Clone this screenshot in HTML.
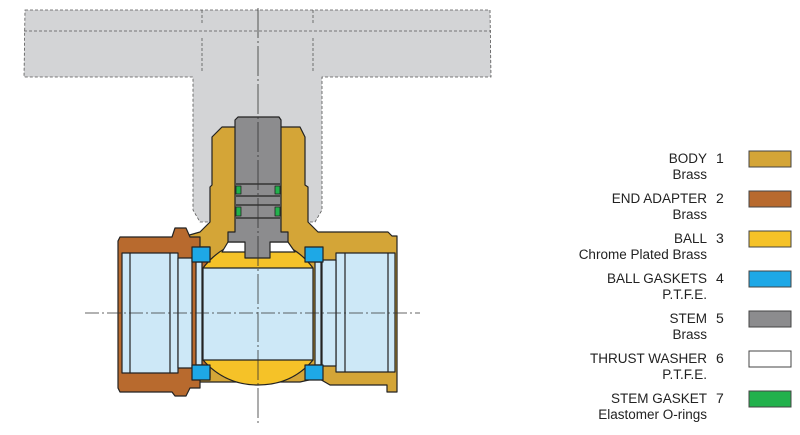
<!DOCTYPE html>
<html><head><meta charset="utf-8"><style>
html,body{margin:0;padding:0;background:#fff;width:800px;height:435px;overflow:hidden}
svg{display:block}
text{font-family:"Liberation Sans",sans-serif;fill:#222}
</style></head><body>
<svg width="800" height="435" viewBox="0 0 800 435" xmlns="http://www.w3.org/2000/svg">
<g stroke="#555" stroke-width="0.8" stroke-dasharray="3,2" fill="#d3d4d6">
<path d="M25 10 L490 10 L491 77 L322 77 L322 210 L315 222 L200 222 L193 210 L193 77 L24 77 Z"/>
<line x1="24" y1="31" x2="491" y2="31"/>
<line x1="202" y1="10" x2="202" y2="24" fill="none"/>
<line x1="202" y1="38" x2="202" y2="72" fill="none"/>
<line x1="313" y1="10" x2="313" y2="24" fill="none"/>
<line x1="313" y1="38" x2="313" y2="72" fill="none"/>
</g>
<g stroke="#222" stroke-width="1.2" stroke-linejoin="round">
<path fill="#d4a537" d="M222 127 L300 127 L305 137 L305 185 L308 187 L308 222 L318 232 L388 232 L392 236 L397 236 L397 392 L387 392 L387 385 L330 385 L318 378 L300 382 L190 382 L186 392 L186 380 L200 378 L200 372 L186 372 L186 236 L200 232 L210 222 L210 187 L212 185 L212 137 Z"/>
<path fill="#b86a2e" d="M120 237 L172 237 L175 228 L186 228 L190 237 L200 237 L200 247 L210 247 L210 378 L200 378 L200 388 L190 388 L186 396 L175 396 L172 392 L120 392 L118 388 L118 241 Z"/>
<path fill="#cde8f7" d="M122 253 L178 253 L178 373 L122 373 Z"/>
<path fill="#cde8f7" d="M178 258 L192 258 L192 368 L178 368 Z"/>
<path fill="#cde8f7" d="M336 253 L395 253 L395 372 L336 372 Z"/>
<path fill="#cde8f7" d="M322 260 L336 260 L336 366 L322 366 Z"/>
<line x1="130" y1="253" x2="130" y2="373"/>
<line x1="170" y1="253" x2="170" y2="373"/>
<line x1="345" y1="253" x2="345" y2="372"/>
<line x1="388" y1="253" x2="388" y2="372"/>
<rect x="196" y="262" width="6" height="103" fill="#cde8f7"/>
<rect x="315" y="262" width="6" height="103" fill="#cde8f7"/>
<path fill="#f5c228" d="M203 268 Q225 240 258 240 Q292 240 313 268 L313 360 Q292 385 258 385 Q225 385 203 360 Z"/>
<rect x="203" y="268" width="110" height="92" fill="#cde8f7"/>
<path fill="#fff" d="M228 242 L288 242 L295 252 L222 252 Z"/>
<path fill="#8c8c8e" d="M238 117 L279 117 L281 120 L281 232 L288 232 L288 242 L270 242 L270 258 L245 258 L245 242 L228 242 L228 232 L235 232 L235 120 Z"/>
<line x1="236" y1="184" x2="280" y2="184"/>
<line x1="236" y1="196" x2="280" y2="196"/>
<line x1="236" y1="205" x2="280" y2="205"/>
<line x1="236" y1="218" x2="280" y2="218"/>
<rect x="236" y="186" width="5" height="8" fill="#22b14c" stroke-width="0.8"/>
<rect x="275" y="186" width="5" height="8" fill="#22b14c" stroke-width="0.8"/>
<rect x="236" y="207" width="5" height="9" fill="#22b14c" stroke-width="0.8"/>
<rect x="275" y="207" width="5" height="9" fill="#22b14c" stroke-width="0.8"/>
<rect x="192" y="247" width="18" height="15" fill="#1ea8e6"/>
<rect x="305" y="247" width="18" height="15" fill="#1ea8e6"/>
<rect x="192" y="365" width="18" height="15" fill="#1ea8e6"/>
<rect x="305" y="365" width="18" height="15" fill="#1ea8e6"/>
</g>
<line x1="85" y1="313" x2="420" y2="313" stroke="#333" stroke-width="0.8" stroke-dasharray="14,3,2,3"/>
<line x1="258" y1="8" x2="258" y2="425" stroke="#333" stroke-width="0.8" stroke-dasharray="30,3,2,3"/>
<g font-size="13.5" text-anchor="end">
<text x="707" y="163">BODY</text><text x="707" y="179">Brass</text>
<text x="707" y="203">END ADAPTER</text><text x="707" y="219">Brass</text>
<text x="707" y="243">BALL</text><text x="707" y="259">Chrome Plated Brass</text>
<text x="707" y="283">BALL GASKETS</text><text x="707" y="299">P.T.F.E.</text>
<text x="707" y="323">STEM</text><text x="707" y="339">Brass</text>
<text x="707" y="363">THRUST WASHER</text><text x="707" y="379">P.T.F.E.</text>
<text x="707" y="403">STEM GASKET</text><text x="707" y="419">Elastomer O-rings</text>
</g>
<g font-size="14">
<text x="716" y="163">1</text><text x="716" y="203">2</text><text x="716" y="243">3</text>
<text x="716" y="283">4</text><text x="716" y="323">5</text><text x="716" y="363">6</text><text x="716" y="403">7</text>
</g>
<g stroke="#444" stroke-width="1">
<rect x="749" y="151" width="42" height="16" fill="#d4a537"/>
<rect x="749" y="191" width="42" height="16" fill="#b86a2e"/>
<rect x="749" y="231" width="42" height="16" fill="#f5c228"/>
<rect x="749" y="271" width="42" height="16" fill="#1ea8e6"/>
<rect x="749" y="311" width="42" height="16" fill="#8c8c8e"/>
<rect x="749" y="351" width="42" height="16" fill="#fff"/>
<rect x="749" y="391" width="42" height="16" fill="#22b14c"/>
</g>
</svg>
</body></html>
